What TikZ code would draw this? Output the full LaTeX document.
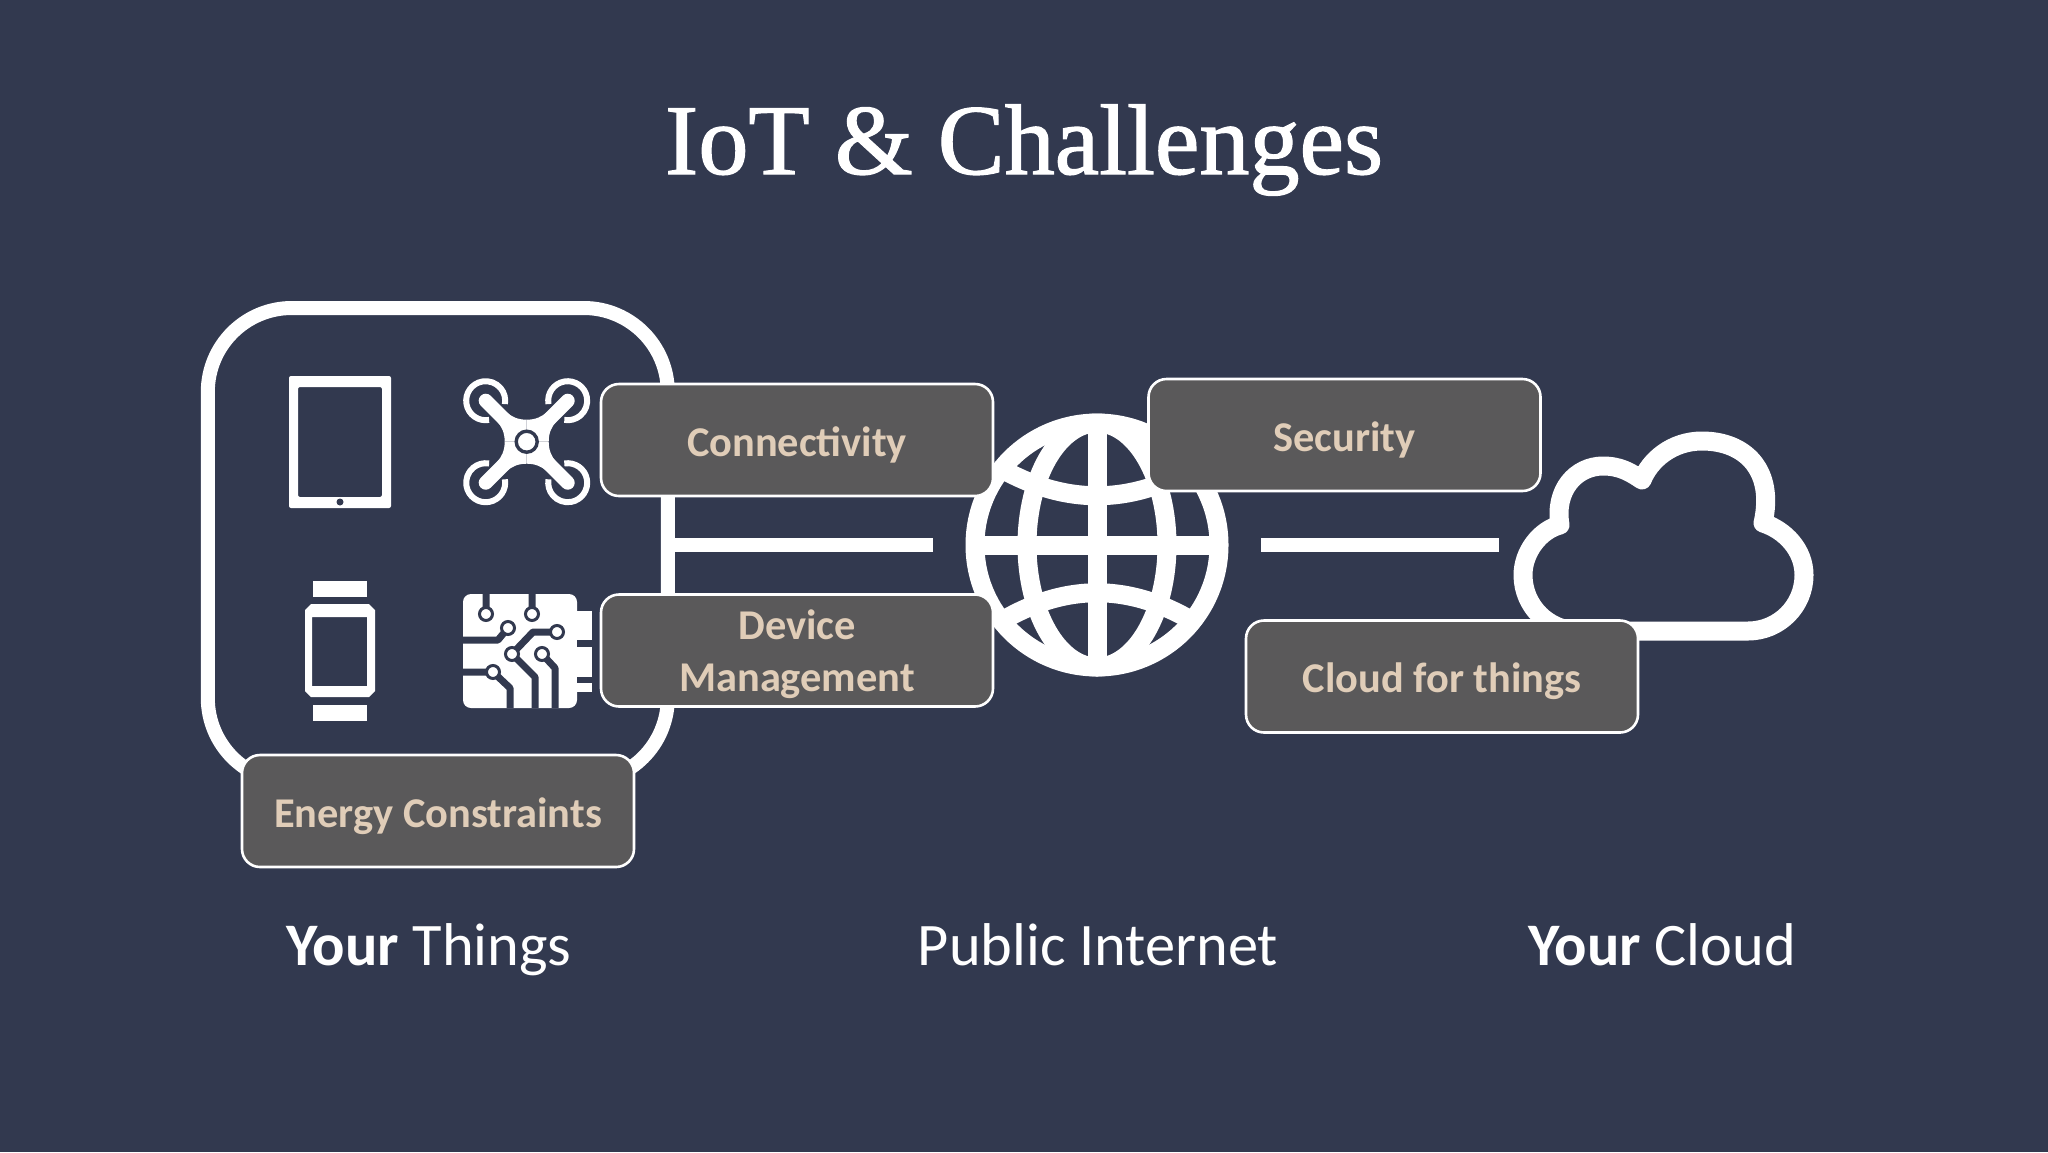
\documentclass[tikz,border=0pt]{standalone}
\usepackage{xcolor}
\usepackage{fontspec}
\setmainfont{Carlito}
\newfontfamily\titlefont[FakeBold=1.2]{Liberation Serif}
\usepackage{tikz}
\usetikzlibrary{calc}
\definecolor{slidebg}{HTML}{32394F}
\definecolor{boxfill}{HTML}{5A595A}
\definecolor{boxtext}{HTML}{E0CDB8}
\tikzset{
  challenge/.style={draw=white,line width=1.3pt,fill=boxfill,rounded corners=9pt,
    minimum width=196pt,minimum height=56pt,inner sep=0pt,align=center,text depth=0pt,text height=16pt,
    text=boxtext,font=\fontsize{21.2}{26}\selectfont\bfseries},
  caption/.style={text=white,anchor=base,inner sep=0pt,font=\fontsize{30.2}{34}\selectfont},
  linkline/.style={draw=white,line width=7.2pt},
  iconline/.style={draw=white,line width=9.5pt,line join=round}
}

\begin{document}
\begin{tikzpicture}[x=0.5pt,y=-0.5pt]
    \useasboundingbox[fill=slidebg] (0,0) rectangle (2048,1152);
    \node[text=white,anchor=base,inner sep=0pt,font=\titlefont\fontsize{50.1}{56}\selectfont] (title) at (1024,174) {IoT \& Challenges};
    % your things
    \node[draw=white,line width=7pt,rounded corners=42pt,minimum width=230pt,minimum height=237pt,inner sep=0pt] (things) at (437.8,545) {};
    % tablet
    \fill[white,even odd rule,rounded corners=1pt] (289,376) rectangle (391,508) (298,387) rectangle (382,497);
    \fill[slidebg] (340,502) circle (3.5);
    % watch
    \fill[white] (313,581) rectangle (367,597);
    \fill[white] (313,705) rectangle (367,721);
    \fill[white,even odd rule] (311,604) -- (369,604) -- (375,610) -- (375,691) -- (369,697) -- (311,697) -- (305,691) -- (305,610) -- cycle
      (312,617) rectangle (367,686);
    % drone
    \begin{scope}[shift={(526.7,441.7)}]
      \foreach \ang in {0,90,180,270} {
        \fill[white,rotate=\ang] (0,0) -- (0,-22) .. controls (9,-22) and (15,-25) .. (20.4,-29.6) -- (29.6,-20.4) .. controls (25,-15) and (22,-9) .. (22,0) -- cycle;
        \draw[white,line width=7pt,line cap=round,rotate=\ang] (0,0) -- (41,-41);
        \draw[white,line width=3pt,rotate=\ang] ([shift={(170:19.5)}]41,-41) arc (170:460:19.5);
      }
      \filldraw[fill=white,draw=slidebg,line width=1.7pt] (0,0) circle (10.5);
    \end{scope}
    % chip
    \fill[white,rounded corners=4pt] (463,594) rectangle (577,708);
    \fill[white] (570,611) rectangle (592,692);
    \fill[slidebg] (577,640) rectangle (592,647);
    \fill[slidebg] (577,677) rectangle (592,683);
    \draw[slidebg,line width=3.5pt,line join=round]
      (486,594) -- (486,614) (532,594) -- (532,614)
      (508,628) -- (498,640) -- (463,640)
      (557,632) -- (533,632) -- (512,654) -- (535,677) -- (535,708)
      (542,654) -- (555,668) -- (555,708)
      (463,672) -- (493,672) -- (510,688) -- (510,708);
    \foreach \via in {(486,614),(532,614),(508,628),(557,632),(512,654),(542,654),(493,672)}
      \filldraw[fill=white,draw=slidebg,line width=1.5pt] \via circle (6.5);
    % globe
    \node[circle,draw=white,line width=9.5pt,minimum size=122pt,inner sep=0pt] (globe) at (1097,545) {};
    \draw[iconline] (globe.center) ellipse (70 and 122);
    \draw[iconline] (975,545) -- (1219,545);
    \draw[iconline] (1097,423) -- (1097,667);
    \draw[iconline] (1000,468) .. controls (1065,505) and (1129,505) .. (1194,468);
    \draw[iconline] (1000,622) .. controls (1065,583) and (1129,583) .. (1194,622);
    % cloud
    \draw[iconline] (1579,631) -- (1748,631) arc (90:0:56)
      .. controls (1804,550) and (1785,530) .. (1763,523)
      .. controls (1775,470) and (1745,441) .. (1702,441)
      .. controls (1672,441) and (1650,460) .. (1642,480)
      .. controls (1630,472) and (1620,466) .. (1603,466)
      .. controls (1576,466) and (1554,490) .. (1560,525)
      .. controls (1540,530) and (1523,552) .. (1523,575)
      .. controls (1523,606) and (1548,631) .. (1579,631) -- cycle;
    \coordinate (cloudedge) at (1499,545);
    % links
    \draw[linkline,shorten >=16.2pt] (things.east) -- (globe.west);
    \draw[linkline,shorten <=16.2pt] (globe.east) -- (cloudedge);
    % challenges
    \node[challenge] (connectivity) at (797,440) {Connectivity};
    \node[challenge,text height=40.5pt] (device) at (797,650.5) {Device\\Management};
    \node[challenge] (energy) at (438,811) {Energy Constraints};
    \node[challenge] (security) at (1344.5,435) {Security};
    \node[challenge] (cloudthings) at (1442,676.5) {Cloud for things};
    % captions
    \node[caption] (yourthings) at (429,965) {\textbf{Your} Things};
    \node[caption] (internet) at (1098,965) {Public Internet};
    \node[caption] (yourcloud) at (1662,965) {\textbf{Your} Cloud};
\end{tikzpicture}
\end{document}
